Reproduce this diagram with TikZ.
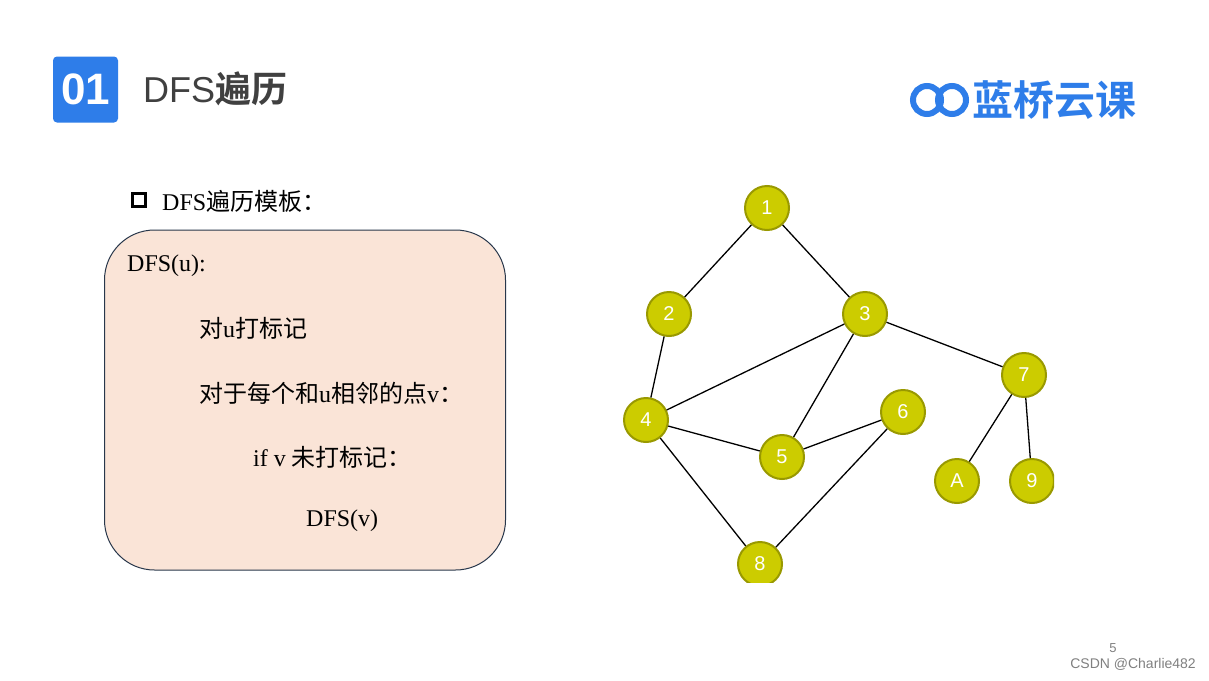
\documentclass[tikz,border=0pt]{standalone}
\usepackage{fontspec}
\setmainfont{Liberation Serif}
\newfontfamily\cjk{Noto Sans CJK SC}
\newfontfamily\cjkb{Noto Sans CJK SC Bold}
\newfontfamily\arial{Liberation Sans}
\definecolor{vtx}{RGB}{204,204,0}
\definecolor{vtxb}{RGB}{153,153,0}
\definecolor{blu}{RGB}{46,125,233}
\definecolor{boxf}{RGB}{250,228,215}
\definecolor{boxd}{RGB}{40,55,75}
\tikzset{v/.style={circle,fill=vtx,draw=vtxb,line width=2pt,minimum size=44pt,inner sep=0pt,text=white,font=\arial\fontsize{20}{20}\selectfont},
e/.style={line width=1.3pt,black},
t/.style={anchor=west,inner sep=0pt,font=\fontsize{24}{24}\selectfont}}
\begin{document}
\begin{tikzpicture}[x=1pt,y=-1pt]
\useasboundingbox (0,0) rectangle (1209,680);
\fill[white] (0,0) rectangle (1209,680);
\node[fill=blu,rounded corners=4pt,minimum width=65pt,minimum height=66pt,text=white,font=\arial\bfseries\fontsize{44}{44}\selectfont,inner sep=0pt] (num) at (85.5,89.5) {01};
\node[anchor=west,inner sep=0pt,text=black!75,font=\arial\fontsize{36}{36}\selectfont] (title) at (143,89) {DFS{\cjkb 遍历}};
% logo
\draw[blu,line width=6pt] (927,100) circle (14pt);
\draw[blu,line width=6pt] (952,100) circle (14pt);
\node[anchor=west,inner sep=0pt,text=blu,font=\cjkb\fontsize{41}{41}\selectfont] (logo) at (972,100) {蓝桥云课};
% template
\node[draw=black,line width=2.5pt,minimum size=13pt,inner sep=0pt] (sq) at (139,200) {};
\node[t] (head) at (162,201) {DFS{\cjk 遍历模板：}};
\node[draw=boxd,fill=boxf,line width=1pt,rounded corners=50pt,minimum width=401pt,minimum height=340pt,inner sep=0pt] (box) at (305,400) {};
\node[t] (l1) at (127,266) {DFS(u):};
\node[t] (l2) at (199,328) {{\cjk 对}u{\cjk 打标记}};
\node[t] (l3) at (199,393) {{\cjk 对于每个和}u{\cjk 相邻的点}v{\cjk ：}};
\node[t] (l4) at (253,457) {if v {\cjk 未打标记：}};
\node[t] (l5) at (306,521) {DFS(v)};
% graph
\begin{scope}
\clip (600,150) rectangle (1054,582);
\node[v] (n1) at (767,208) {1};
\node[v] (n2) at (669,314) {2};
\node[v] (n3) at (865,314) {3};
\node[v] (n4) at (646,420) {4};
\node[v] (n5) at (782,457) {5};
\node[v] (n6) at (903,412) {6};
\node[v] (n7) at (1024,375) {7};
\node[v] (nA) at (957,481) {A};
\node[v] (n9) at (1032,481) {9};
\node[v] (n8) at (760,564) {8};
\draw[e] (n1)--(n2) (n1)--(n3) (n2)--(n4) (n3)--(n4) (n3)--(n5) (n3)--(n7) (n4)--(n5) (n5)--(n6) (n4)--(n8) (n6)--(n8) (n7)--(nA) (n7)--(n9);
\end{scope}
\node[text=gray,font=\arial\fontsize{13}{13}\selectfont,inner sep=0pt] (pg) at (1113,648) {5};
\node[anchor=east,text=gray,font=\arial\fontsize{14}{14}\selectfont,inner sep=0pt] (csdn) at (1196,664) {CSDN @Charlie482};
\end{tikzpicture}
\end{document}
